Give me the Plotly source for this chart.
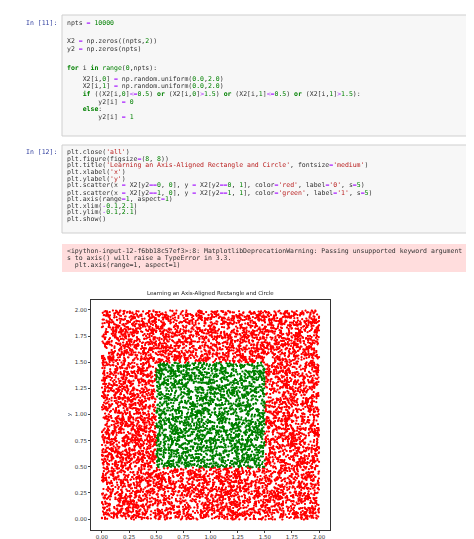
import plotly.graph_objects as go
import numpy as np

# The reference points come from np.random.uniform (see cell 11); single points
# can't be read off the picture, so a seeded sample of the same size stands in.
npts = 10000
rng = np.random.default_rng(11)
X2 = rng.uniform(0.0, 2.0, size=(npts, 2))
inside = (X2[:, 0] > 0.5) & (X2[:, 0] <= 1.5) & (X2[:, 1] > 0.5) & (X2[:, 1] <= 1.5)
y2 = inside.astype(int)

tick_vals = [0.0, 0.25, 0.5, 0.75, 1.0, 1.25, 1.5, 1.75, 2.0]
tick_text = ["0.00", "0.25", "0.50", "0.75", "1.00", "1.25", "1.50", "1.75", "2.00"]

G = "#008000"  # numbers
S = "#ba2121"  # strings
K = "#008000"  # keywords
P = "#aa22ff"  # operators

def c(t, col):
    return f"<span style='color:{col}'>{t}</span>"

cell11 = [
    (15, "npts " + c("=", P) + " " + c("10000", G)),
    (33, "X2 " + c("=", P) + " np.zeros((npts," + c("2", G) + "))"),
    (41, "y2 " + c("=", P) + " np.zeros(npts)"),
    (60, c("<b>for</b>", K) + " i " + c("<b>in</b>", K) + " " + c("range", K) + "(" + c("0", G) + ",npts):"),
    (71, "    X2[i," + c("0", G) + "] " + c("=", P) + " np.random.uniform(" + c("0.0", G) + "," + c("2.0", G) + ")"),
    (78, "    X2[i," + c("1", G) + "] " + c("=", P) + " np.random.uniform(" + c("0.0", G) + "," + c("2.0", G) + ")"),
    (86, "    " + c("<b>if</b>", K) + " ((X2[i," + c("0", G) + "]" + c("&lt;=", P) + c("0.5", G) + ") " + c("<b>or</b>", K)
     + " (X2[i," + c("0", G) + "]" + c("&gt;", P) + c("1.5", G) + ") " + c("<b>or</b>", K)
     + " (X2[i," + c("1", G) + "]" + c("&lt;=", P) + c("0.5", G) + ") " + c("<b>or</b>", K)
     + " (X2[i," + c("1", G) + "]" + c("&gt;", P) + c("1.5", G) + "):"),
    (94, "        y2[i] " + c("=", P) + " " + c("0", G)),
    (101, "    " + c("<b>else</b>", K) + ":"),
    (109, "        y2[i] " + c("=", P) + " " + c("1", G)),
]
cell12 = [
    (144, "plt.close(" + c("'all'", S) + ")"),
    (151, "plt.figure(figsize" + c("=", P) + "(" + c("8", G) + ", " + c("8", G) + "))"),
    (157, "plt.title(" + c("'Learning an Axis-Aligned Rectangle and Circle'", S) + ", fontsize" + c("=", P) + c("'medium'", S) + ")"),
    (164, "plt.xlabel(" + c("'x'", S) + ")"),
    (171, "plt.ylabel(" + c("'y'", S) + ")"),
    (177, "plt.scatter(x " + c("=", P) + " X2[y2" + c("==", P) + c("0", G) + ", " + c("0", G) + "], y " + c("=", P) + " X2[y2" + c("==", P) + c("0", G) + ", " + c("1", G) + "], color" + c("=", P) + c("'red'", S) + ", label" + c("=", P) + c("'0'", S) + ", s" + c("=", P) + c("5", G) + ")"),
    (185, "plt.scatter(x " + c("=", P) + " X2[y2" + c("==", P) + c("1", G) + ", " + c("0", G) + "], y " + c("=", P) + " X2[y2" + c("==", P) + c("1", G) + ", " + c("1", G) + "], color" + c("=", P) + c("'green'", S) + ", label" + c("=", P) + c("'1'", S) + ", s" + c("=", P) + c("5", G) + ")"),
    (191, "plt.axis(range" + c("=", P) + c("1", G) + ", aspect" + c("=", P) + c("1", G) + ")"),
    (198, "plt.xlim(" + c("-", P) + c("0.1", G) + "," + c("2.1", G) + ")"),
    (204, "plt.ylim(" + c("-", P) + c("0.1", G) + "," + c("2.1", G) + ")"),
    (211, "plt.show()"),
]
warning = [
    (243, "&lt;ipython-input-12-f6bb18c57ef3&gt;:8: MatplotlibDeprecationWarning: Passing unsupported keyword argument"),
    (250, "s to axis() will raise a TypeError in 3.3."),
    (257, "  plt.axis(range=1, aspect=1)"),
]

W, H = 474, 539
fig = go.Figure()
fig.add_trace(go.Scattergl(x=X2[y2 == 0, 0], y=X2[y2 == 0, 1], mode="markers",
                           marker=dict(color="red", size=2.5), name="0"))
fig.add_trace(go.Scattergl(x=X2[y2 == 1, 0], y=X2[y2 == 1, 1], mode="markers",
                           marker=dict(color="green", size=2.5), name="1"))

def py(v):
    return 1 - v / H

shapes = [
    dict(type="rect", xref="paper", yref="paper", x0=54 / W, x1=1, y0=py(128), y1=py(7),
         fillcolor="#f7f7f7", line=dict(color="#cfcfcf", width=1), layer="below"),
    dict(type="rect", xref="paper", yref="paper", x0=54 / W, x1=1, y0=py(225), y1=py(137),
         fillcolor="#f7f7f7", line=dict(color="#cfcfcf", width=1), layer="below"),
    dict(type="rect", xref="paper", yref="paper", x0=54 / W, x1=1, y0=py(264), y1=py(236),
         fillcolor="#fdd", line=dict(width=0), layer="below"),
]
ann = []
mono = "DejaVu Sans Mono"
for yy, t in cell11 + cell12 + warning:
    ann.append(dict(x=57 / W, y=py(yy), text=t, font=dict(family=mono, size=6.5, color="#333")))
ann.append(dict(x=51 / W, y=py(15), text="In [11]:", xanchor="right", font=dict(family=mono, size=6.5, color="#303f9f")))
ann.append(dict(x=51 / W, y=py(144), text="In [12]:", xanchor="right", font=dict(family=mono, size=6.5, color="#303f9f")))
ann.append(dict(x=(83 + 322) / 2 / W, y=py(285), text="Learning an Axis-Aligned Rectangle and Circle",
                xanchor="center", font=dict(family="DejaVu Sans", size=5.5, color="#222")))
for a in ann:
    a.setdefault("xanchor", "left")
    a.update(xref="paper", yref="paper", yanchor="middle", showarrow=False)

axis_common = dict(range=[-0.1, 2.1], tickvals=tick_vals, ticktext=tick_text, showgrid=False,
                   zeroline=False, showline=True, mirror=True, linecolor="#333", linewidth=1,
                   ticks="outside", ticklen=2, tickfont=dict(family="DejaVu Sans", size=5.5, color="#333"))
fig.update_layout(
    width=W, height=H, margin=dict(l=0, r=0, t=0, b=0), showlegend=False,
    paper_bgcolor="white", plot_bgcolor="white",
    xaxis=dict(domain=[83 / W, 322 / W], title=dict(text="x", font=dict(size=6), standoff=2), **axis_common),
    yaxis=dict(domain=[py(521.5), py(291.5)], title=dict(text="y", font=dict(size=6), standoff=2), **axis_common),
    shapes=shapes, annotations=ann,
)
fig.write_html("out.html")
